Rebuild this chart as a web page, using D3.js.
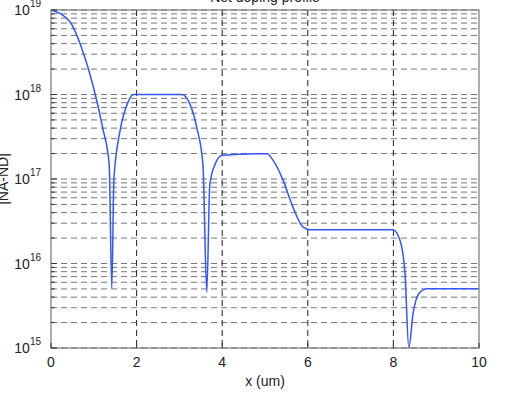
<!DOCTYPE html>
<html>
<head>
<meta charset="utf-8">
<script src="https://cdn.jsdelivr.net/npm/d3@7"></script>
<style>
  body { margin: 0; background: #fff; }
  svg { font-family: Arial, "Liberation Sans", sans-serif; }
</style>
</head>
<body>
<svg id="chart" width="514" height="400"></svg>
<script>
// doping profile (x in um, log10 |NA-ND|)
const xPos = [0, 0.44, 0.75, 0.98, 1.21, 1.36, 1.42, 1.47, 1.61, 1.80, 1.92, 3.06, 3.25, 3.41, 3.55, 3.64,
  3.71, 3.83, 4.0, 4.88, 5.05, 5.19, 5.42, 5.65, 5.89, 6.05, 7.99, 8.15, 8.27, 8.36, 8.46, 8.62, 8.78, 10];
const logConc = [19, 18.86, 18.50, 18.11, 17.60, 17.17, 15.71, 17.0, 17.56, 17.91, 18.0, 18.0, 17.88, 17.60, 17.17, 15.66,
  16.93, 17.17, 17.28, 17.30, 17.30, 17.22, 16.99, 16.67, 16.43, 16.40, 16.40, 16.28, 15.89, 15.0, 15.41, 15.66, 15.70, 15.70];
const xTicks = [0, 2, 4, 6, 8, 10];
const yExps = [15, 16, 17, 18, 19];

const svg = d3.select('#chart');
const margin = { top: 10, right: 35, bottom: 52, left: 51 };
const width = 514 - margin.left - margin.right;
const height = 400 - margin.top - margin.bottom;
const g = svg.append('g').attr('transform', `translate(${margin.left},${margin.top})`);

const x = d3.scaleLinear().domain([0, 10]).range([0, width]);
const y = d3.scaleLog().domain([1e15, 1e19]).range([height, 0]);

// horizontal grid: every decade and minor 2..9
const hLines = [];
yExps.forEach(e => {
  hLines.push(10 ** e);
  if (e < 19) for (let m = 2; m <= 9; m++) hLines.push(m * 10 ** e);
});
g.selectAll('.hgrid').data(hLines).join('line')
  .attr('x1', 0).attr('x2', width)
  .attr('y1', d => y(d)).attr('y2', d => y(d))
  .attr('stroke', '#777').attr('stroke-width', 1).attr('stroke-dasharray', '6,4');

// vertical grid
g.selectAll('.vgrid').data(xTicks.slice(1, -1)).join('line')
  .attr('x1', d => x(d)).attr('x2', d => x(d))
  .attr('y1', 0).attr('y2', height)
  .attr('stroke', '#222').attr('stroke-width', 1).attr('stroke-dasharray', '6,4');

// curve
const pts = xPos.map((v, i) => [v, 10 ** logConc[i]]);
g.append('path')
  .datum(pts)
  .attr('d', d3.line().x(d => x(d[0])).y(d => y(d[1])).curve(d3.curveMonotoneX))
  .attr('fill', 'none').attr('stroke', '#3355ff').attr('stroke-width', 1.5);

// frame
g.append('rect').attr('width', width).attr('height', height)
  .attr('fill', 'none').attr('stroke', '#777').attr('stroke-width', 1.2);

// x ticks
g.selectAll('.xt').data(xTicks).join('line')
  .attr('x1', d => x(d)).attr('x2', d => x(d))
  .attr('y1', height).attr('y2', height - 5).attr('stroke', '#333');
g.selectAll('.xl').data(xTicks).join('text')
  .attr('x', d => x(d)).attr('y', height + 19)
  .attr('text-anchor', 'middle').attr('font-size', 14).attr('fill', '#222')
  .text(d => d);

// y minor ticks
g.selectAll('.ymt').data(hLines).join('line')
  .attr('x1', 0).attr('x2', d => Number.isInteger(Math.log10(d)) ? 6 : 3.5)
  .attr('y1', d => y(d)).attr('y2', d => y(d)).attr('stroke', '#333');

// y labels
const yl = g.selectAll('.yl').data(yExps).join('text')
  .attr('x', -10).attr('y', d => y(10 ** d) + 5)
  .attr('text-anchor', 'end').attr('font-size', 14).attr('fill', '#222');
yl.append('tspan').text('10');
yl.append('tspan').attr('font-size', 10).attr('dy', -8).text(d => d);

// axis titles
svg.append('text')
  .attr('x', margin.left + width / 2).attr('y', 386)
  .attr('text-anchor', 'middle').attr('font-size', 14).attr('fill', '#222')
  .text('x (um)');
svg.append('text')
  .attr('transform', `translate(8,${margin.top + height / 2}) rotate(-90)`)
  .attr('text-anchor', 'middle').attr('font-size', 14).attr('fill', '#222')
  .text('|NA-ND|');
svg.append('text')
  .attr('x', margin.left + width / 2).attr('y', 2)
  .attr('text-anchor', 'middle').attr('font-size', 14).attr('fill', '#222')
  .text('Net doping profile');
</script>
</body>
</html>
